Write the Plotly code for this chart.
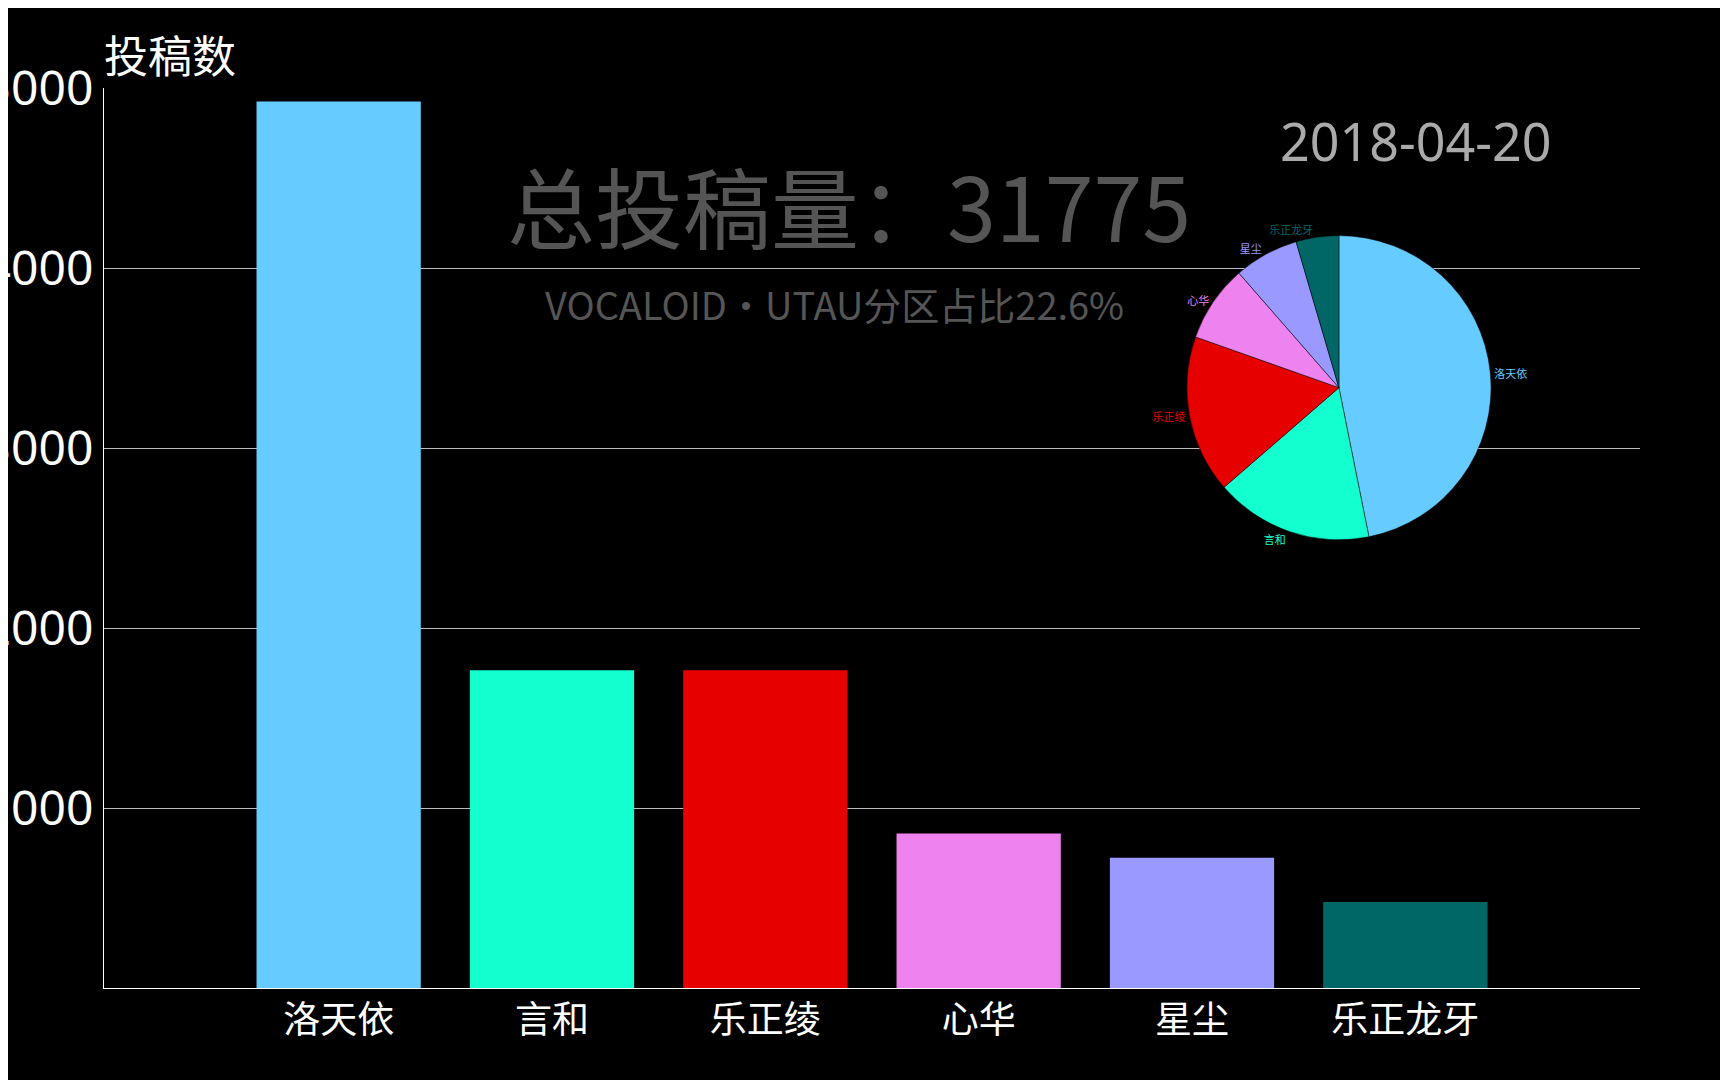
import plotly.graph_objects as go

names = ["洛天依", "言和", "乐正绫", "心华", "星尘", "乐正龙牙"]
counts = [4925, 1765, 1765, 858, 723, 478]
colors = ["#66ccff", "#14ffd0", "#e60000", "#ee82ee", "#9999ff", "#006666"]
tick_vals = [1000, 2000, 3000, 4000, 5000]
tick_text = ["1000", "2000", "3000", "4000", "5000"]
date_label = "2018-04-20"
total = 31775
share = "22.6%"

W, H, l, r, t, b = 1728, 1080, 96, 96, 80, 100

# pixel -> paper coords
def px(x, y):
    return (x - l) / (W - l - r), 1 - (y - t) / (H - t - b)

fig = go.Figure()
fig.add_trace(go.Bar(x=list(range(len(names))), y=counts, marker_color=colors,
                     marker_line_width=0, width=0.77, showlegend=False))
fig.add_trace(go.Pie(labels=names, values=counts, marker=dict(colors=colors, line=dict(color="#000", width=0.5)),
                     sort=False, direction="clockwise", rotation=0,
                     textinfo="label", textposition="outside",
                     outsidetextfont=dict(size=11, color=colors),
                     domain=dict(x=[0.685, 0.923], y=[0.498, 0.836]), showlegend=False))

x1, y1 = px(841, 196)
x2, y2 = px(826, 295)
x3, y3 = px(1407, 132)

fig.update_layout(
    width=W, height=H,
    paper_bgcolor="black", plot_bgcolor="black",
    margin=dict(l=l, r=r, t=t, b=b),
    font=dict(family="Noto Sans CJK SC", color="white"),
    xaxis=dict(range=[-1.1, 6.1], tickvals=list(range(len(names))), ticktext=names,
               tickfont=dict(size=37), showgrid=False, showline=True, linecolor="white",
               ticks="", zeroline=False),
    yaxis=dict(range=[0, 5000], tickvals=tick_vals, ticktext=tick_text,
               tickfont=dict(size=48, family="Noto Sans"), gridcolor="#bbbbbb", gridwidth=1,
               showline=True, linecolor="white", zeroline=False, automargin=False),
    annotations=[
        dict(text="投稿数", x=-0.001, y=1.0, xref="paper", yref="paper", xanchor="left",
             yanchor="bottom", showarrow=False, font=dict(size=44, color="white")),
        dict(text="总投稿量：" + str(total), x=x1, y=y1, xref="paper", yref="paper",
             xanchor="center", yanchor="middle",
             showarrow=False, font=dict(size=88, color="#555555")),
        dict(text="VOCALOID·UTAU分区占比" + share, x=x2, y=y2, xref="paper", yref="paper",
             xanchor="center", yanchor="middle",
             showarrow=False, font=dict(size=38, color="#555555")),
        dict(text=date_label, x=x3, y=y3, xref="paper", yref="paper",
             xanchor="center", yanchor="middle",
             showarrow=False, font=dict(size=52, color="#aaaaaa", family="Noto Sans")),
    ],
)

fig.write_html("out.html")
